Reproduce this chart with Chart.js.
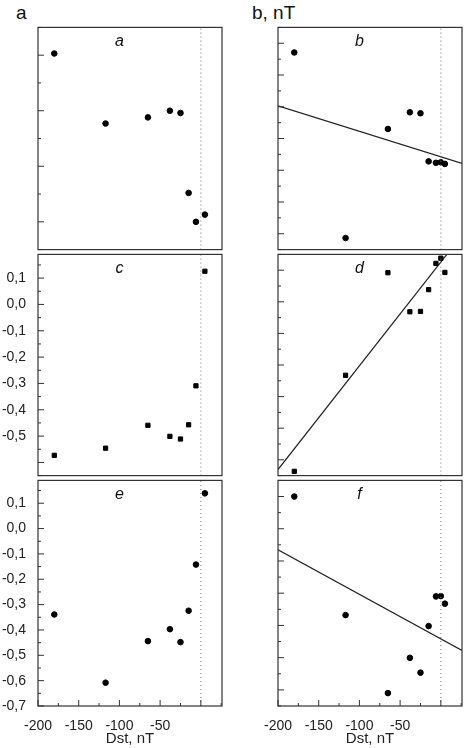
<!DOCTYPE html>
<html>
<head>
<meta charset="utf-8">
<script src="https://cdn.jsdelivr.net/npm/chart.js@4"></script>
<style>
  body { margin: 0; background: #fff; width: 474px; height: 748px; position: relative; overflow: hidden; font-family: "Liberation Sans", Arial, sans-serif; }
  canvas { position: absolute; }
  .head { position: absolute; font-size: 19px; color: #111; }
</style>
</head>
<body>
<div class="head" style="left:16px;top:2px">a</div>
<div class="head" style="left:252px;top:2px">b, nT</div>

<script>
// Dst values (nT), left column has 8 events, right column 9
const dstLeft = [-180, -117, -65, -38, -25, -15, -6, 5];
const dstRight = [-180, -117, -65, -38, -25, -15, -6, 0, 5];

const valA = [1.003, 0.877, 0.888, 0.900, 0.896, 0.752, 0.700, 0.713];
const valC = [-0.573, -0.546, -0.459, -0.501, -0.511, -0.457, -0.309, 0.126];
const valE = [-0.339, -0.608, -0.444, -0.397, -0.448, -0.324, -0.142, 0.139];
const valB = [5.42, -6.27, 0.6, 1.65, 1.59, -1.44, -1.53, -1.5, -1.6];
const valD = [1.27, 7.35, 13.84, 11.37, 11.39, 12.77, 14.43, 14.76, 13.86];
const valF = [20.0, 12.64, 7.8, 9.99, 9.07, 11.96, 13.8, 13.82, 13.35];

// fitted lines (two end points each)
const fitB = [{x: -200, y: 2.06}, {x: 26, y: -1.57}];
const fitD = [{x: -200, y: 1.38}, {x: 7.4, y: 15}];
const fitF = [{x: -200, y: 16.7}, {x: 26, y: 10.45}];

// axis ranges [min, max, minor step]
const rangeA = [0.65, 1.05, 0.05];
const rangeC = [-0.65, 0.19, 0.05];
const rangeE = [-0.70, 0.19, 0.05];
const rangeB = [-7, 7, 1];
const rangeD = [1, 15, 1];
const rangeF = [7, 21, 1];

function makePanel(cfg) {
  const c = document.createElement('canvas');
  c.style.left = cfg.left + 'px';
  c.style.top = cfg.top + 'px';
  c.style.width = cfg.width + 'px';
  c.style.height = cfg.height + 'px';
  c.width = cfg.width; c.height = cfg.height;
  document.body.appendChild(c);

  const step = cfg.range[2];
  const isMajor = v => {
    const n = Math.round(v / step);
    return Math.abs(v / step - n) < 1e-6 && n % 2 === 0;
  };
  const yLabel = v => {
    if (!isMajor(v)) return '';
    if (step < 1) {
      const s = (Math.round(v * 10) / 10).toFixed(1).replace('.', ',');
      return s === '-0,0' ? '0,0' : s;
    }
    return String(Math.round(v));
  };

  const frame = {
    id: 'frame' + cfg.letter,
    afterDraw(chart) {
      const ctx = chart.ctx, a = chart.chartArea, sx = chart.scales.x, sy = chart.scales.y;
      ctx.save();
      ctx.strokeStyle = '#333';
      ctx.lineWidth = 1.2;
      ctx.strokeRect(a.left, a.top, a.right - a.left, a.bottom - a.top);
      ctx.lineWidth = 1;
      const n0 = Math.ceil(cfg.range[0] / step - 1e-6), n1 = Math.floor(cfg.range[1] / step + 1e-6);
      for (let n = n0; n <= n1; n++) {
        const p = sy.getPixelForValue(n * step);
        const len = n % 2 === 0 ? 6 : 3;
        ctx.beginPath(); ctx.moveTo(a.left, p); ctx.lineTo(a.left + len, p); ctx.stroke();
      }
      if (cfg.xAxis) {
        for (let v = -200; v <= 25; v += 25) {
          const p = sx.getPixelForValue(v);
          const len = v % 50 === 0 ? 6 : 3;
          ctx.beginPath(); ctx.moveTo(p, a.bottom); ctx.lineTo(p, a.bottom - len); ctx.stroke();
        }
      }
      ctx.fillStyle = '#111';
      ctx.font = 'italic 16px "Liberation Sans", Arial, sans-serif';
      ctx.textAlign = 'center';
      ctx.fillText(cfg.letter, sx.getPixelForValue(-100), a.top + 19);
      ctx.restore();
    }
  };

  const pts = cfg.xs.map((x, i) => ({ x: x, y: cfg.ys[i] }));
  const datasets = [
    { data: [{ x: 0, y: cfg.range[0] }, { x: 0, y: cfg.range[1] }],
      type: 'line', borderColor: '#777', borderWidth: 1, borderDash: [1, 3], pointRadius: 0 },
    { data: pts, backgroundColor: '#000', borderColor: '#000',
      pointStyle: cfg.square ? 'rect' : 'circle', pointRadius: cfg.square ? 3 : 2.8 }
  ];
  if (cfg.fit) {
    datasets.push({ data: cfg.fit, type: 'line', borderColor: '#222', borderWidth: 1.2, pointRadius: 0 });
  }

  new Chart(c, {
    type: 'scatter',
    data: { datasets: datasets },
    options: {
      responsive: false,
      animation: false,
      devicePixelRatio: 1,
      layout: { padding: { top: 10, right: 10, bottom: cfg.xAxis ? 0 : 10, left: 0 } },
      plugins: { legend: { display: false }, tooltip: { enabled: false } },
      scales: {
        x: {
          type: 'linear', min: -200, max: 26,
          display: !!cfg.xAxis,
          afterFit: s => { if (cfg.xAxis) s.height = 42; },
          grid: { display: false },
          border: { display: false },
          ticks: { font: { family: '"Liberation Sans", Arial, sans-serif', size: 14 }, color: '#222', padding: 4,
            stepSize: 50, maxRotation: 0, autoSkip: false,
            callback: v => (v % 50 === 0 ? String(v) : '') },
          title: { display: true, text: 'Dst, nT', font: { family: '"Liberation Sans", Arial, sans-serif', size: 15 }, color: '#222', padding: 0 }
        },
        y: {
          type: 'linear', min: cfg.range[0], max: cfg.range[1],
          afterFit: s => { s.width = cfg.yWidth; },
          grid: { display: false },
          border: { display: false },
          ticks: { font: { family: '"Liberation Sans", Arial, sans-serif', size: 14 }, color: '#222', padding: 4,
            stepSize: step * 2, autoSkip: false, callback: yLabel }
        }
      }
    },
    plugins: [frame]
  });
}

const rows = [
  { top: 15, h: 227 },
  { top: 242, h: 226 },
  { top: 468, h: 228 }
];

makePanel({ left: 0, width: 232, yWidth: 38, top: rows[0].top, height: rows[0].h + 20,
  xs: dstLeft, ys: valA, range: rangeA, letter: 'a' });
makePanel({ left: 0, width: 232, yWidth: 38, top: rows[1].top, height: rows[1].h + 20,
  xs: dstLeft, ys: valC, range: rangeC, letter: 'c', square: true });
makePanel({ left: 0, width: 232, yWidth: 38, top: rows[2].top, height: rows[2].h + 10 + 42,
  xs: dstLeft, ys: valE, range: rangeE, letter: 'e', xAxis: true });

makePanel({ left: 237, width: 235, yWidth: 41, top: rows[0].top, height: rows[0].h + 20,
  xs: dstRight, ys: valB, range: rangeB, letter: 'b', fit: fitB });
makePanel({ left: 237, width: 235, yWidth: 41, top: rows[1].top, height: rows[1].h + 20,
  xs: dstRight, ys: valD, range: rangeD, letter: 'd', square: true, fit: fitD });
makePanel({ left: 237, width: 235, yWidth: 41, top: rows[2].top, height: rows[2].h + 10 + 42,
  xs: dstRight, ys: valF, range: rangeF, letter: 'f', fit: fitF, xAxis: true });
</script>
</body>
</html>
